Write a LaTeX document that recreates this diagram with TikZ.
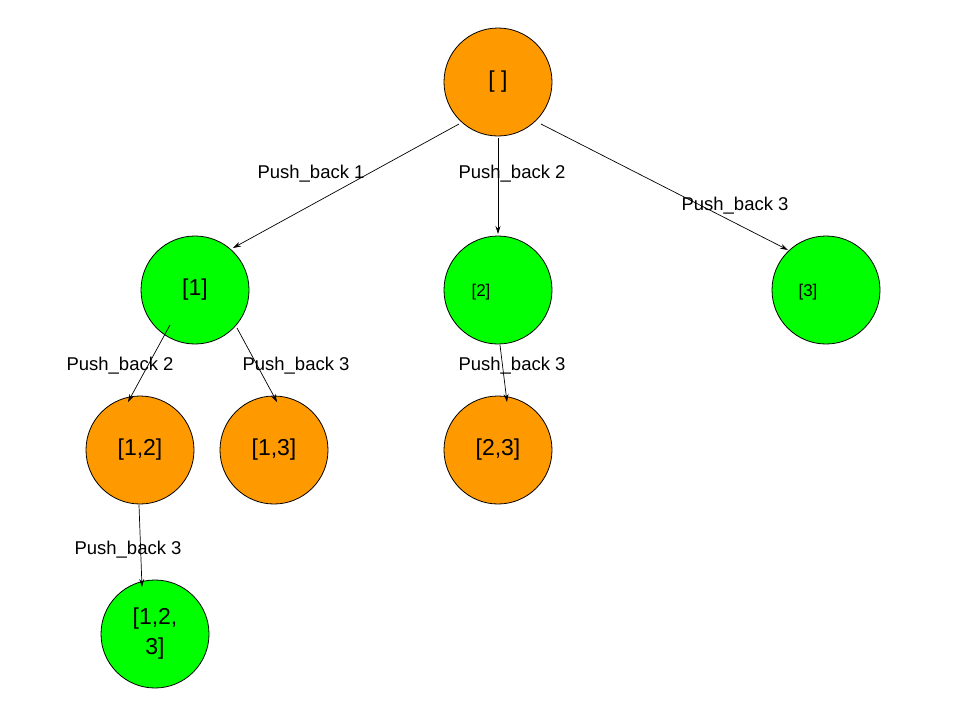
\documentclass[tikz,border=0pt]{standalone}
\usepackage{fontspec}
\setmainfont{Liberation Sans}
\usetikzlibrary{calc,arrows.meta}
\definecolor{gorange}{HTML}{FF9900}
\definecolor{ggreen}{HTML}{00FF00}
\begin{document}
\begin{tikzpicture}[x=1pt,y=-1pt,
  statenode/.style={circle,draw=black,line width=0.8pt,minimum size=108pt,inner sep=0pt,font=\fontsize{23}{30}\selectfont,align=center},
  orangenode/.style={statenode,fill=gorange},
  greennode/.style={statenode,fill=ggreen},
  smalltext/.style={font=\fontsize{17}{20}\selectfont},
  edgelabel/.style={font=\fontsize{18.5}{21}\selectfont,inner sep=0pt},
  conn/.style={line width=0.7pt,-{Stealth[length=8pt,width=5pt]}}]
\useasboundingbox (0,0) rectangle (960,720);
\fill[white] (0,0) rectangle (960,720);
% nodes
\node[orangenode] (root) at (498,82) {[ ]};
\node[greennode] (n1) at (195,290) {[1]};
\node[greennode] (n2) at (498,290) {};
\node[smalltext] (t2) at (481,292) {[2]};
\node[greennode] (n3) at (826,290) {};
\node[smalltext] (t3) at (808,292) {[3]};
\node[orangenode] (n12) at (140,450) {[1,2]};
\node[orangenode] (n13) at (274,450) {[1,3]};
\node[orangenode] (n23) at (498,450) {[2,3]};
\node[greennode] (n123) at (155,634) {\raisebox{-3pt}{\parbox{60pt}{\centering [1,2,\\3]}}};
% connector end points
\coordinate (a1) at ($(root)+(-39,42)$);
\coordinate (b1) at ($(n1)+(38,-42)$);
\coordinate (a2) at ($(root)+(0,56)$);
\coordinate (b2) at ($(n2)+(0,-56)$);
\coordinate (a3) at ($(root)+(43,42)$);
\coordinate (b3) at ($(n3)+(-38,-40)$);
\coordinate (a4) at ($(n1)+(-25,35)$);
\coordinate (b4) at ($(n12)+(-12,-48)$);
\coordinate (a5) at ($(n1)+(42,38)$);
\coordinate (b5) at ($(n13)+(3,-48)$);
\coordinate (a6) at ($(n2)+(2,55)$);
\coordinate (b6) at ($(n23)+(9,-48)$);
\coordinate (a7) at ($(n12)+(-1,55)$);
\coordinate (b7) at ($(n123)+(-13,-47)$);
% connectors
\draw[conn] (a1) -- (b1);
\draw[conn] (a2) -- (b2);
\draw[conn] (a3) -- (b3);
\draw[conn] (a4) -- (b4);
\draw[conn] (a5) -- (b5);
\draw[conn] (a6) -- (b6);
\draw[conn] (a7) -- (b7);
% labels
\node[edgelabel] (l1) at (311,174) {Push\_back 1};
\node[edgelabel] (l2) at (512,174) {Push\_back 2};
\node[edgelabel] (l3) at (735,206) {Push\_back 3};
\node[edgelabel] (l4) at (120,366) {Push\_back 2};
\node[edgelabel] (l5) at (296,366) {Push\_back 3};
\node[edgelabel] (l6) at (512,366) {Push\_back 3};
\node[edgelabel] (l7) at (128,550) {Push\_back 3};
\end{tikzpicture}
\end{document}
